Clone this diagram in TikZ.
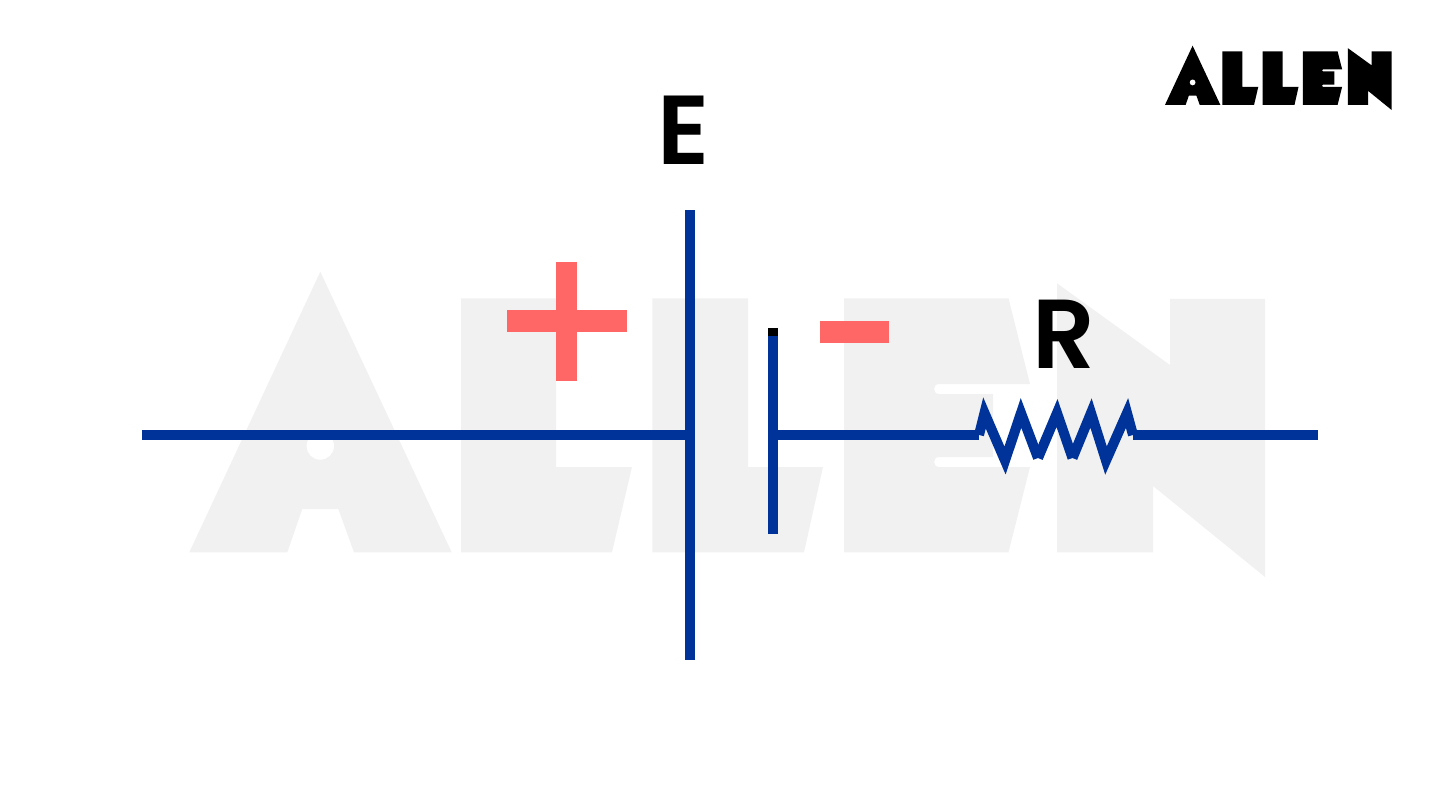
\documentclass[tikz,border=0pt]{standalone}
\usepackage{fontspec}
\newfontfamily\labelfont{Poppins SemiBold}
\usetikzlibrary{positioning}
\definecolor{wireblue}{HTML}{003399}
\definecolor{signred}{HTML}{FF6666}
\definecolor{markgray}{HTML}{F1F1F1}
\tikzset{
  wire/.style={draw=wireblue,line width=5pt},
  zigzag/.style={draw=wireblue,line width=5pt,miter limit=10},
  sign/.style={draw=signred,line width=10.5pt},
  letter/.style={inner sep=0pt,anchor=base,font=\labelfont\fontsize{49}{49}\selectfont}
}
% the five letters of the mark, in the coordinates of the big one
\newcommand{\allenmark}[1]{
  \fill[#1] (320.3,271.7) -- (451.7,552.3) -- (354,552.3) -- (338.3,509) -- (302.3,509) -- (287.3,552.3) -- (189.3,552.3) -- cycle;
  \fill[white] (320.3,446) circle (13.7);
  \fill[#1] (461,298.3) -- (556,298.3) -- (556,467) -- (632,467) -- (612,552.3) -- (461,552.3) -- cycle;
  \fill[#1] (652.3,298.3) -- (748,298.3) -- (748,467) -- (823,467) -- (804,552.3) -- (652.3,552.3) -- cycle;
  \fill[#1] (844,298.3) -- (1008.5,298.3) -- (1030,384) -- (939,384) .. controls (932.5,384) and (932.5,394) .. (939,394) -- (993,394) -- (993,457) -- (939,457) .. controls (932.5,457) and (932.5,467) .. (939,467) -- (1030,467) -- (1008.5,552.3) -- (844,552.3) -- cycle;
  \fill[#1] (1057,283.3) -- (1170,365) -- (1170,299) -- (1265,299) -- (1265,577) -- (1153,486) -- (1153,552.3) -- (1057,552.3) -- cycle;
}
\begin{document}
\begin{tikzpicture}[x=0.5pt,y=-0.5pt]
  \useasboundingbox (0,0) rectangle (1454,812);
  \allenmark{markgray}
  \begin{scope}[shift={(1165,45.7)},scale=0.2107,shift={(-189.3,-271.7)}]
    \allenmark{black}
  \end{scope}
  \coordinate (wireleft) at (142,435);
  \coordinate (wireright) at (1318,435);
  \coordinate (longcell) at (690,435);
  \coordinate (shortcell) at (773,435);
  \coordinate (resleft) at (979,435);
  \coordinate (resright) at (1133,435);
  \coordinate (longtop) at (690,210);
  \coordinate (longbot) at (690,660);
  \coordinate (shorttop) at (773,336);
  \coordinate (shortbot) at (773,534);
  \coordinate (shorttip) at (773,328);
  % wires and the two plates
  \draw[wire] (wireleft) -- (longcell);
  \draw[wire] (shortcell) -- (resleft);
  \draw[wire] (resright) -- (wireright);
  \draw[wire] (longtop) -- (longbot);
  \draw[wire,draw=black] (shorttip) -- (shorttop);
  \draw[wire] (shorttop) -- (shortbot);
  % resistor
  \coordinate (lowa) at (1038,458);
  \coordinate (lowb) at (1072.5,458);
  \draw[zigzag] (resleft) -- (984.5,413) -- (1005,460.5) -- (1021,413) -- (lowa);
  \draw[zigzag] (lowa) -- (1057,413) -- (lowb);
  \draw[zigzag] (lowb) -- (1091,413) -- (1106,460.5) -- (1127,413) -- (resright);
  % plus and minus
  \coordinate (plusl) at (507,321);
  \coordinate (plusr) at (626.5,321);
  \coordinate (plust) at (566.5,261.7);
  \coordinate (plusb) at (566.5,381);
  \coordinate (minusl) at (820.3,331.7);
  \coordinate (minusr) at (889,331.7);
  \draw[sign] (plusl) -- (plusr);
  \draw[sign] (plust) -- (plusb);
  \draw[sign,line width=11pt] (minusl) -- (minusr);
  \node[letter] (emf) at (683.3,165) {E};
  \node[letter] (res) at (1063.5,368) {R};
\end{tikzpicture}
\end{document}
